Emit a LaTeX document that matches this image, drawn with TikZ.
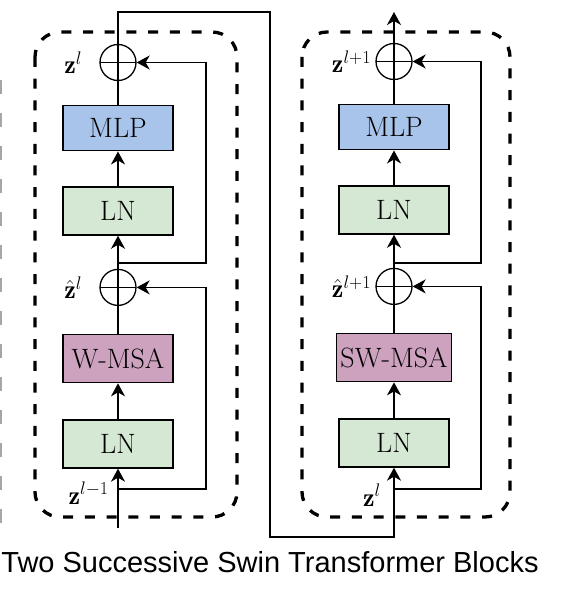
\RequirePackage{fix-cm}
\documentclass[tikz,border=0pt]{standalone}
\usepackage{amsmath}
\usepackage{fontspec}
\newfontfamily\captionfont{Liberation Sans}
\usetikzlibrary{arrows.meta}
\usetikzlibrary{positioning}
\definecolor{lngreen}{HTML}{D5E8D4}
\definecolor{mlpblue}{HTML}{A9C4EB}
\definecolor{msapink}{HTML}{CDA2BE}

\begin{document}
\begin{tikzpicture}[x=1pt,y=-1pt,
  layer/.style={draw,line width=1.3pt,minimum width=110pt,minimum height=48pt,inner sep=0pt,font=\fontsize{28}{32}\selectfont},
  lnbox/.style={layer,fill=lngreen},
  mlpbox/.style={layer,fill=mlpblue,minimum height=45pt},
  msabox/.style={layer,fill=msapink},
  addop/.style={circle,draw,line width=1.3pt,minimum size=36pt,inner sep=0pt,
    path picture={\draw[line width=1.3pt] (path picture bounding box.north) -- (path picture bounding box.south)
      (path picture bounding box.west) -- (path picture bounding box.east);}},
  wire/.style={line width=1.5pt},
  flow/.style={wire,-{Stealth[length=13pt,width=14pt,inset=4pt]}},
  blockframe/.style={line width=3.3pt,dash pattern=on 10pt off 11.7pt,rounded corners=25pt},
  sym/.style={inner sep=0pt,font=\fontsize{26}{30}\selectfont}]
  \useasboundingbox (0,0) rectangle (560,601);

  \draw[gray!70,line width=1.5pt,dash pattern=on 14pt off 19pt] (0.8,80) -- (0.8,523);
  \draw[blockframe] (35,32) rectangle (237,517);
  \draw[blockframe] (302,32) rectangle (510,517);

  % first block
  \node (ln1) [lnbox] at (118,444) {LN};
  \node (wmsa) [msabox,above=36pt of ln1] {W-MSA};
  \node (add1) [addop,above=28pt of wmsa] {};
  \node (ln2) [lnbox,above=33pt of add1] {LN};
  \node (mlp1) [mlpbox,above=35pt of ln2] {MLP};
  \node (add2) [addop,above=24pt of mlp1] {};

  % second block
  \node (ln3) [lnbox] at (394,443) {LN};
  \node (swmsa) [msabox,minimum width=115pt,above=36pt of ln3] {SW-MSA};
  \node (add3) [addop,above=28pt of swmsa] {};
  \node (ln4) [lnbox,above=33pt of add3] {LN};
  \node (mlp2) [mlpbox,above=35pt of ln4] {MLP};
  \node (add4) [addop,above=24pt of mlp2] {};

  \coordinate (in) at (118,528);
  \coordinate (res1) at (118,489);
  \coordinate (res2) at (118,263);
  \coordinate (link1) at (270,12);
  \coordinate (link2) at (270,537);
  \coordinate (res3) at (394,489);
  \coordinate (res4) at (394,263);
  \coordinate (out) at (394,12);

  \draw[flow] (in) -- (ln1);
  \draw[flow] (ln1) -- (wmsa);
  \draw[wire] (wmsa) -- (add1);
  \draw[flow] (add1) -- (ln2);
  \draw[flow] (ln2) -- (mlp1);
  \draw[wire] (mlp1) -- (add2);
  \draw[flow] (res1) -- ++(88,0) |- (add1.east);
  \draw[flow] (res2) -- ++(88,0) |- (add2.east);
  \draw[flow] (add2.north) |- (link1) -- (link2) -| (ln3.south);

  \draw[flow] (ln3) -- (swmsa);
  \draw[wire] (swmsa) -- (add3);
  \draw[flow] (add3) -- (ln4);
  \draw[flow] (ln4) -- (mlp2);
  \draw[wire] (mlp2) -- (add4);
  \draw[flow] (res3) -- ++(87,0) |- (add3.east);
  \draw[flow] (res4) -- ++(87,0) |- (add4.east);
  \draw[flow] (add4) -- (out);

  \node (zl) [sym,left=17pt of add2] {$\mathbf{z}^{l}$};
  \node (zhatl) [sym,left=17pt of add1] {$\hat{\mathbf{z}}^{l}$};
  \node (zprev) [sym,left=9pt of res1,yshift=-4pt] {$\mathbf{z}^{l-1}$};
  \node (znext) [sym,left=4pt of add4] {$\mathbf{z}^{l+1}$};
  \node (zhatnext) [sym,left=4pt of add3] {$\hat{\mathbf{z}}^{l+1}$};
  \node (zin) [sym,left=13pt of res3,yshift=-6pt] {$\mathbf{z}^{l}$};

  \node (title) [font=\captionfont\fontsize{29}{34}\selectfont,anchor=base] at (270,572) {Two Successive Swin Transformer Blocks};
\end{tikzpicture}
\end{document}
